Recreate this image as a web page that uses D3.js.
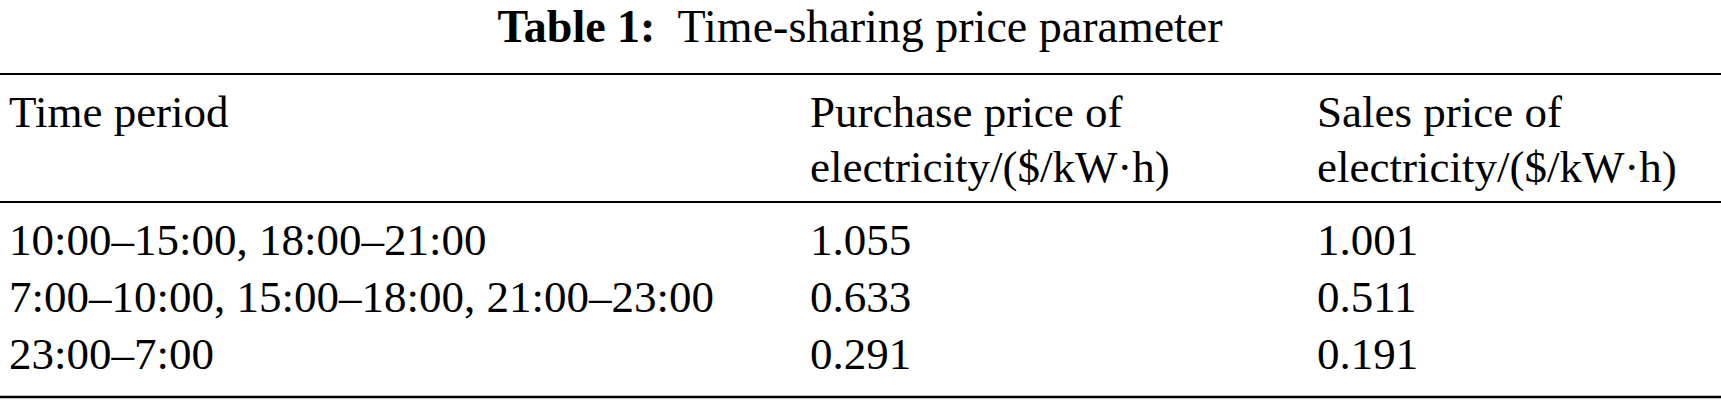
<!DOCTYPE html>
<html><head><meta charset="utf-8">
<script src="https://cdn.jsdelivr.net/npm/d3@7"></script>
<style>body{margin:0;background:#fff}</style></head>
<body><svg id="c" width="1721" height="404"></svg>
<script>
const title = ["Table 1:", "  Time-sharing price parameter"];
const headers = [["Time period"], ["Purchase price of", "electricity/($/kW·h)"], ["Sales price of", "electricity/($/kW·h)"]];
const periods = ["10:00–15:00, 18:00–21:00", "7:00–10:00, 15:00–18:00, 21:00–23:00", "23:00–7:00"];
const purchase = ["1.055", "0.633", "0.291"];
const sales = ["1.001", "0.511", "0.191"];

const svg = d3.select("#c");
const font = "'Liberation Serif', 'DejaVu Serif', serif";
const colX = d3.scaleOrdinal().domain([0,1,2]).range([9, 810, 1317]);
const rowY = d3.scalePoint().domain(d3.range(periods.length)).range([255, 369]);

const t = svg.append("text").attr("x", 860).attr("y", 42).attr("text-anchor","middle")
  .attr("font-family", font).attr("font-size", 46).attr("xml:space","preserve");
t.append("tspan").attr("font-weight","bold").text(title[0]);
t.append("tspan").text(title[1]);

[74, 202].forEach(y => svg.append("line").attr("x1",0).attr("x2",1721).attr("y1",y).attr("y2",y).attr("stroke","#000").attr("stroke-width",2));
svg.append("line").attr("x1",0).attr("x2",1721).attr("y1",397).attr("y2",397).attr("stroke","#000").attr("stroke-width",2.5);

headers.forEach((lines,i) => lines.forEach((s,j) =>
  svg.append("text").attr("x", colX(i)).attr("y", 127 + j*55).attr("font-family", font).attr("font-size", 45).text(s)));

[periods, purchase, sales].forEach((col,i) => col.forEach((s,r) =>
  svg.append("text").attr("x", colX(i)).attr("y", rowY(r)).attr("font-family", font).attr("font-size", 45).text(s)));
</script></body></html>
